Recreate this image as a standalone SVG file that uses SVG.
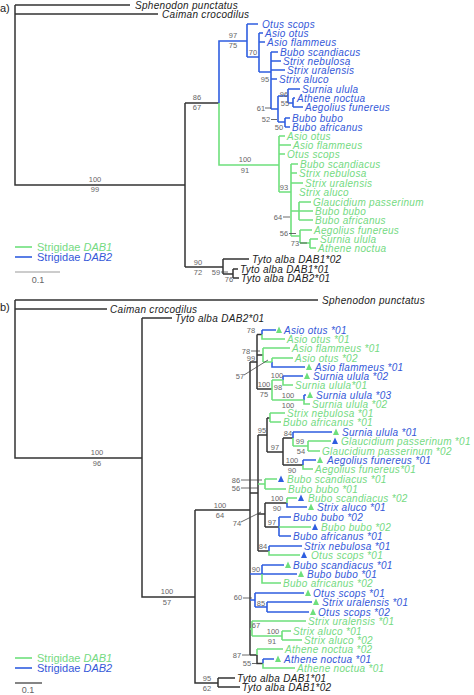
<svg xmlns="http://www.w3.org/2000/svg" xmlns:xlink="http://www.w3.org/1999/xlink" width="474" height="695" viewBox="0 0 474 695">
<style>
.k{stroke:#333;stroke-width:1.5;fill:none}
.b{stroke:#2f5ee0;stroke-width:1.6;fill:none}
.g{stroke:#6ee07c;stroke-width:1.6;fill:none}
.ld{stroke:#444;stroke-width:0.8;fill:none}
text{font-family:"Liberation Sans",Arial,sans-serif}
.t{font-size:10px;font-style:italic;letter-spacing:0.3px}
.tk{fill:#222}
.tb{fill:#3458d8}
.tg{fill:#74da82}
.s{font-size:7.5px;fill:#666;text-anchor:middle}
.lab{font-size:11px;fill:#222}
.leg{font-size:11px}
</style>
<defs><path id="tri" d="M-3,3 L3,3 L0,-3.5 Z"/></defs>
<rect width="474" height="695" fill="#fff"/>

<g id="connectors">
<!-- panel a -->
<path class="k" d="M15,5 H130 M15,14 H158 M15,5 V185 H185 M185,103 V267 M185,103 H219 M185,267 H223 M223,259 V274 M223,259 H249 M223,274 H233 M233,269 V278 M233,269 H238 M233,278 H239"/>
<path class="b" d="M219,103 V41 H247 M247,24 V57 M247,24 H258 M247,57 H259 M259,33 V72 M259,33 H263 M259,42 H265 M259,72 H271 M271,52 V109 M271,52 H278 M271,61 H281 M271,70 H285 M271,79 H277 M271,109 H278 M278,96 V122 M278,96 H288 M278,122 H285 M288,89 V103 M288,89 H300 M288,103 H293 M293,98 V107 M293,98 H295 M293,107 H303 M285,118 V127 M285,118 H290 M285,127 H290"/>
<path class="g" d="M219,103 V165 H279 M279,136 V192 M279,136 H285 M279,145 H291 M279,154 H285 M279,192 H291 M291,164 V236 M291,164 H298 M291,173 H297 M291,183 H303 M291,211 H299 M291,236 H300 M299,202 V220 M299,202 H311 M299,211 H313 M299,220 H313 M300,230 V243 M300,230 H312 M300,243 H310 M310,239 V248 M310,239 H318 M310,248 H316"/>
<path class="ld" d="M265,108 H271 M271,119.5 H277 M283,217 H290 M289,233.5 H296 M300,243 H307 M221,272 H228"/>
<!-- panel b -->
<path class="k" d="M15,300 H318 M15,300 V458 H142 M15,309 H107 M142,318 V597 H195 M142,318 H172 M195,510 V683 H218 M195,510 H250 M218,678 V687 M218,678 H235 M218,687 H240 M250,362 V655 M250,362 H257 M257,334.5 V389 M257,334.5 H262 M257,355 H263 M257,389 H272 M250,493 H258 M258,435 V551 M258,435 H267 M267,418 V452 M267,418 H270 M267,452 H283 M283,438 V465 M283,438 H293 M283,465 H303 M258,514 H265 M265,503 V527 M265,503 H287 M265,527 H279 M258,551 H269 M250,655 H257 M257,655 V663.5 H263"/>
<path class="b" d="M262,330 V334.5 M262,330 H276 M272,362 V367 H305 M283,376 V380 M283,376 H303 M304,395 V400 M304,395 H306 M293,432 V438 M293,432 H332 M303,460 V465 M303,460 H316 M287,503 V507 H307 M279,517 V536 M279,517 H291 M279,536 H291 M269,546 V551 M269,546 H302 M250,574 H262 M262,565 V574 M262,565 H284 M262,574 H297 M250,600 H255 M255,593 V607 M255,593 H304 M255,607 H267 M267,602 V612 M267,602 H312 M267,612 H309 M263,659 V663.5 M263,659 H274"/>
<path class="g" d="M262,334.5 V339 H285 M263,348 V362 M263,348 H290 M263,362 H272 M272,358 V362 M272,358 H293 M272,380 V400 M272,380 H283 M272,400 H304 M283,380 V385 H293 M304,400 V404 H310 M270,413 V422 M270,413 H285 M270,422 H281 M293,438 V446 M293,446 H308 M308,441 V451 M308,441 H331 M308,451 H320 M303,465 V469 H313 M258,484 H265 M265,479 V489 M265,479 H277 M265,489 H286 M287,498 V503 M287,498 H297 M279,527 H311 M269,551 V555 H300 M262,574 V583 H281 M250,629 H252 M252,621 V636 M252,621 H306 M252,636 H282 M282,631 V640 M282,631 H291 M282,640 H302 M257,649 V655 M257,649 H283 M263,663.5 V668 H295"/>
<path class="ld" d="M251,351 H260 M244,375 L268,360 M241,480 H262 M241,488 H258 M241,522 L261,512 M243,598 H252 M242,655 H250 M252,663.5 H257"/>
</g>

<g id="support-values">
<text class="s" x="95" y="182">100</text><text class="s" x="95" y="192">99</text>
<text class="s" x="197" y="100">86</text><text class="s" x="197" y="110">67</text>
<text class="s" x="233" y="38">97</text><text class="s" x="233" y="48">75</text>
<text class="s" x="253" y="55">70</text>
<text class="s" x="265" y="82">95</text>
<text class="s" x="284" y="97">96</text><text class="s" x="285" y="106">55</text>
<text class="s" x="261" y="110.5">61</text>
<text class="s" x="266" y="122">52</text>
<text class="s" x="279" y="130">50</text>
<text class="s" x="245" y="162">100</text><text class="s" x="245" y="173">91</text>
<text class="s" x="284" y="190">93</text>
<text class="s" x="278" y="219.5">64</text>
<text class="s" x="284" y="236">56</text>
<text class="s" x="295" y="246">73</text>
<text class="s" x="198" y="265">90</text><text class="s" x="198" y="275">72</text>
<text class="s" x="216" y="274.5">59</text>
<text class="s" x="229" y="282">76</text>

<text class="s" x="97" y="455">100</text><text class="s" x="97" y="466">96</text>
<text class="s" x="167" y="594">100</text><text class="s" x="167" y="605">57</text>
<text class="s" x="220" y="507.5">100</text><text class="s" x="220" y="518">64</text>
<text class="s" x="207" y="681">95</text><text class="s" x="207" y="691">62</text>
<text class="s" x="251" y="332.5">78</text>
<text class="s" x="246" y="353.5">78</text>
<text class="s" x="251" y="361">99</text>
<text class="s" x="240" y="379">57</text>
<text class="s" x="264" y="386.5">100</text><text class="s" x="264" y="397">75</text>
<text class="s" x="277" y="378">100</text><text class="s" x="278" y="389.5">98</text>
<text class="s" x="288" y="397.5">100</text><text class="s" x="288" y="408">100</text>
<text class="s" x="262" y="432.5">95</text>
<text class="s" x="275" y="449.5">97</text>
<text class="s" x="288" y="436">84</text>
<text class="s" x="300" y="444">99</text><text class="s" x="301" y="454">54</text>
<text class="s" x="292" y="463">100</text><text class="s" x="292" y="473">90</text>
<text class="s" x="236" y="482.5">86</text><text class="s" x="236" y="490.5">56</text>
<text class="s" x="237" y="526">74</text>
<text class="s" x="277" y="501">100</text><text class="s" x="277" y="511">90</text>
<text class="s" x="272" y="524.5">97</text>
<text class="s" x="263" y="549">84</text>
<text class="s" x="256" y="572">90</text>
<text class="s" x="238" y="600">60</text>
<text class="s" x="261" y="605.5">85</text>
<text class="s" x="256" y="627.5">67</text>
<text class="s" x="273" y="634">100</text><text class="s" x="272" y="644">91</text>
<text class="s" x="237" y="657.5">87</text>
<text class="s" x="247" y="666">55</text>
</g>

<g id="panel-labels">
<text class="lab" x="0" y="12">a)</text>
<text class="lab" x="0" y="311">b)</text>
</g>

<g id="legend-a">
<path class="g" d="M15,247 H32"/><text class="leg" x="37" y="251" fill="#74da82">Strigidae <tspan font-style="italic">DAB1</tspan></text>
<path class="b" d="M15,257 H32"/><text class="leg" x="37" y="261" fill="#3458d8">Strigidae <tspan font-style="italic">DAB2</tspan></text>
<path d="M15,272 H60" stroke="#999" stroke-width="1.2"/><text class="s" x="38" y="283" style="font-size:9px">0.1</text>
</g>
<g id="legend-b">
<path class="g" d="M15,658 H32"/><text class="leg" x="37" y="662" fill="#74da82">Strigidae <tspan font-style="italic">DAB1</tspan></text>
<path class="b" d="M15,668 H32"/><text class="leg" x="37" y="672" fill="#3458d8">Strigidae <tspan font-style="italic">DAB2</tspan></text>
<path d="M15,683 H42" stroke="#333" stroke-width="1.2"/><text class="s" x="28" y="693" style="font-size:9px">0.1</text>
</g>

<!-- panel a leaves -->
<g id="a-sphenodon"><text class="t tk" x="135" y="8.5">Sphenodon  punctatus</text></g>
<g id="a-caiman"><text class="t tk" x="162" y="17.5">Caiman crocodilus</text></g>
<g id="a-b-otus"><text class="t tb" x="262" y="27.5">Otus scops</text></g>
<g id="a-b-asiootus"><text class="t tb" x="265" y="36.5">Asio otus</text></g>
<g id="a-b-asioflam"><text class="t tb" x="267" y="45.5">Asio flammeus</text></g>
<g id="a-b-buboscan"><text class="t tb" x="280" y="55.5">Bubo scandiacus</text></g>
<g id="a-b-strixneb"><text class="t tb" x="283" y="64.5">Strix nebulosa</text></g>
<g id="a-b-strixural"><text class="t tb" x="287" y="73.5">Strix uralensis</text></g>
<g id="a-b-strixaluco"><text class="t tb" x="279" y="82.5">Strix aluco</text></g>
<g id="a-b-surnia"><text class="t tb" x="302" y="92.5">Surnia ulula</text></g>
<g id="a-b-athene"><text class="t tb" x="297" y="101.5">Athene noctua</text></g>
<g id="a-b-aegolius"><text class="t tb" x="305" y="110.5">Aegolius funereus</text></g>
<g id="a-b-bubobubo"><text class="t tb" x="292" y="121.5">Bubo bubo</text></g>
<g id="a-b-buboafr"><text class="t tb" x="292" y="130.5">Bubo africanus</text></g>
<g id="a-g-asiootus"><text class="t tg" x="287" y="139.5">Asio otus</text></g>
<g id="a-g-asioflam"><text class="t tg" x="293" y="148.5">Asio flammeus</text></g>
<g id="a-g-otus"><text class="t tg" x="287" y="157.5">Otus scops</text></g>
<g id="a-g-buboscan"><text class="t tg" x="300" y="167.5">Bubo scandiacus</text></g>
<g id="a-g-strixneb"><text class="t tg" x="299" y="176.5">Strix nebulosa</text></g>
<g id="a-g-strixural"><text class="t tg" x="305" y="186.5">Strix uralensis</text></g>
<g id="a-g-strixaluco"><text class="t tg" x="299" y="195.5">Strix aluco</text></g>
<g id="a-g-glauc"><text class="t tg" x="313" y="205.5">Glaucidium passerinum</text></g>
<g id="a-g-bubobubo"><text class="t tg" x="315" y="214.5">Bubo bubo</text></g>
<g id="a-g-buboafr"><text class="t tg" x="315" y="223.5">Bubo africanus</text></g>
<g id="a-g-aegolius"><text class="t tg" x="314" y="233.5">Aegolius funereus</text></g>
<g id="a-g-surnia"><text class="t tg" x="320" y="242.5">Surnia ulula</text></g>
<g id="a-g-athene"><text class="t tg" x="318" y="251.5">Athene noctua</text></g>
<g id="a-tyto1"><text class="t tk" x="252" y="262.5">Tyto alba DAB1*02</text></g>
<g id="a-tyto2"><text class="t tk" x="240" y="272.5">Tyto alba DAB1*01</text></g>
<g id="a-tyto3"><text class="t tk" x="241" y="281.5">Tyto alba DAB2*01</text></g>

<!-- panel b leaves -->
<g id="b-sphenodon"><text class="t tk" x="322" y="303.5">Sphenodon punctatus</text></g>
<g id="b-caiman"><text class="t tk" x="110" y="312.5">Caiman crocodilus</text></g>
<g id="b-tyto-dab2"><text class="t tk" x="175" y="321.5">Tyto alba DAB2*01</text></g>
<g id="b1"><use xlink:href="#tri" x="279" y="330" fill="#6ee07c"/><text class="t tb" x="284" y="333.5">Asio otus *01</text></g>
<g id="b2"><text class="t tg" x="287" y="342.5">Asio otus *01</text></g>
<g id="b3"><text class="t tg" x="292" y="351.5">Asio flammeus *01</text></g>
<g id="b4"><text class="t tg" x="295" y="361.5">Asio otus *02</text></g>
<g id="b5"><use xlink:href="#tri" x="309" y="367" fill="#6ee07c"/><text class="t tb" x="315" y="370.5">Asio flammeus *01</text></g>
<g id="b6"><use xlink:href="#tri" x="307" y="376" fill="#6ee07c"/><text class="t tb" x="313" y="379.5">Surnia ulula *02</text></g>
<g id="b7"><text class="t tg" x="295" y="388.5">Surnia ulula*01</text></g>
<g id="b8"><use xlink:href="#tri" x="310" y="395" fill="#6ee07c"/><text class="t tb" x="316" y="398.5">Surnia ulula *03</text></g>
<g id="b9"><text class="t tg" x="312" y="407.5">Surnia ulula *02</text></g>
<g id="b10"><text class="t tg" x="287" y="416.5">Strix nebulosa *01</text></g>
<g id="b11"><text class="t tg" x="283" y="425.5">Bubo africanus *01</text></g>
<g id="b12"><use xlink:href="#tri" x="336" y="432" fill="#6ee07c"/><text class="t tb" x="342" y="435.5">Surnia ulula *01</text></g>
<g id="b13"><use xlink:href="#tri" x="335" y="441" fill="#2f5ee0"/><text class="t tg" x="341" y="444.5">Glaucidium passerinum *01</text></g>
<g id="b14"><text class="t tg" x="322" y="454.5">Glaucidium passerinum *02</text></g>
<g id="b15"><use xlink:href="#tri" x="320" y="460" fill="#6ee07c"/><text class="t tb" x="327" y="463.5">Aegolius funereus *01</text></g>
<g id="b16"><text class="t tg" x="315" y="472.5">Aegolius funereus*01</text></g>
<g id="b17"><use xlink:href="#tri" x="281" y="479" fill="#2f5ee0"/><text class="t tg" x="287" y="482.5">Bubo scandiacus *01</text></g>
<g id="b18"><text class="t tg" x="288" y="492.5">Bubo bubo *01</text></g>
<g id="b19"><use xlink:href="#tri" x="301" y="498" fill="#2f5ee0"/><text class="t tg" x="308" y="501.5">Bubo scandiacus *02</text></g>
<g id="b20"><use xlink:href="#tri" x="311" y="507" fill="#6ee07c"/><text class="t tb" x="317" y="510.5">Strix aluco *01</text></g>
<g id="b21"><text class="t tb" x="293" y="520.5">Bubo bubo *02</text></g>
<g id="b22"><use xlink:href="#tri" x="315" y="527" fill="#2f5ee0"/><text class="t tg" x="321" y="530.5">Bubo bubo *02</text></g>
<g id="b23"><text class="t tb" x="293" y="539.5">Bubo africanus *01</text></g>
<g id="b24"><text class="t tb" x="304" y="549.5">Strix nebulosa *01</text></g>
<g id="b25"><use xlink:href="#tri" x="304" y="555" fill="#2f5ee0"/><text class="t tg" x="311" y="558.5">Otus scops *01</text></g>
<g id="b26"><use xlink:href="#tri" x="288" y="565" fill="#6ee07c"/><text class="t tb" x="293" y="568.5">Bubo scandiacus *01</text></g>
<g id="b27"><use xlink:href="#tri" x="301" y="574" fill="#6ee07c"/><text class="t tb" x="307" y="577.5">Bubo bubo *01</text></g>
<g id="b28"><text class="t tg" x="283" y="586.5">Bubo africanus *02</text></g>
<g id="b29"><use xlink:href="#tri" x="308" y="593" fill="#6ee07c"/><text class="t tb" x="313" y="596.5">Otus scops *01</text></g>
<g id="b30"><use xlink:href="#tri" x="316" y="602" fill="#6ee07c"/><text class="t tb" x="322" y="605.5">Strix uralensis *01</text></g>
<g id="b31"><use xlink:href="#tri" x="313" y="612" fill="#6ee07c"/><text class="t tb" x="318" y="615.5">Otus scops *02</text></g>
<g id="b32"><text class="t tg" x="308" y="624.5">Strix uralensis *01</text></g>
<g id="b33"><text class="t tg" x="293" y="634.5">Strix aluco *01</text></g>
<g id="b34"><text class="t tg" x="304" y="643.5">Strix aluco *02</text></g>
<g id="b35"><text class="t tg" x="285" y="652.5">Athene noctua *02</text></g>
<g id="b36"><use xlink:href="#tri" x="278" y="659" fill="#6ee07c"/><text class="t tb" x="284" y="662.5">Athene noctua *01</text></g>
<g id="b37"><text class="t tg" x="297" y="671.5">Athene noctua *01</text></g>
<g id="b38"><text class="t tk" x="237" y="681.5">Tyto alba DAB1*01</text></g>
<g id="b39"><text class="t tk" x="242" y="690.5">Tyto alba DAB1*02</text></g>
</svg>
